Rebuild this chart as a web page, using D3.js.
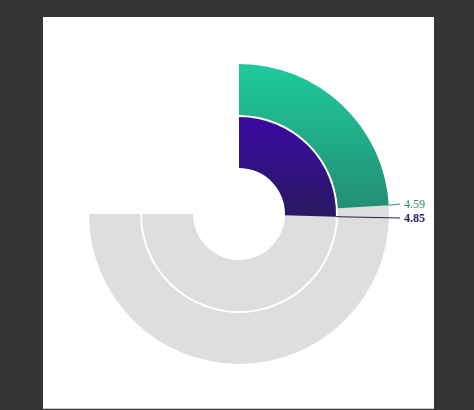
<!DOCTYPE html>
<html>
<head>
<meta charset="utf-8">
<style>
  body { margin: 0; background: #363636; width: 474px; height: 410px; overflow: hidden; }
  .panel { position: absolute; left: 43px; top: 17px; width: 391px; height: 391px; background: #fff; border-bottom: 1px solid #c8c8c8; }
  .label { font-family: "Liberation Serif", "DejaVu Serif", serif; font-size: 12px; }
</style>
</head>
<body>
<div class="panel"></div>
<script src="https://d3js.org/d3.v7.min.js"></script>
<script>
  // data
  const series = ["outer", "inner"];
  const values = [4.59, 4.85];
  const maxValue = 14.3;           // full track = 270°
  const topColors = ["#1ecb9c", "#3b0aa3"];
  const bottomColors = ["#238c72", "#2a1862"];
  const labelColors = ["#2f8c70", "#2b1b5e"];

  const width = 391, height = 391,
        cx = 196, cy = 197;

  const svg = d3.select('.panel')
                .append('svg')
                .attr('width', width)
                .attr('height', height);

  // 半徑 band：內圈在前
  const rScale = d3.scaleBand()
                   .domain(series.slice().reverse())
                   .range([46, 150])
                   .paddingInner(2 / 53);

  const angle = d3.scaleLinear()
                  .domain([0, maxValue])
                  .range([0, Math.PI * 1.5]);

  const defs = svg.append('defs');
  series.forEach((s, i) => {
    const r1 = rScale(s) + rScale.bandwidth();
    const g = defs.append('linearGradient')
                  .attr('id', 'grad-' + s)
                  .attr('gradientUnits', 'userSpaceOnUse')
                  .attr('x1', 0).attr('x2', 0)
                  .attr('y1', -r1)
                  .attr('y2', 0);
    g.append('stop').attr('offset', '0%').attr('stop-color', topColors[i]);
    g.append('stop').attr('offset', '100%').attr('stop-color', bottomColors[i]);
  });

  const arc = d3.arc()
                .innerRadius(d => rScale(d.s))
                .outerRadius(d => rScale(d.s) + rScale.bandwidth());

  const chart = svg.append('g').attr('transform', `translate(${cx},${cy})`);

  // 灰色底軌
  chart.selectAll('path.track')
       .data(series.map(s => ({ s })))
       .join('path')
       .attr('class', 'track')
       .attr('d', d => arc({ ...d, startAngle: 0, endAngle: angle(maxValue) }))
       .attr('fill', '#dedede');

  const data = series.map((s, i) => ({ s, v: values[i], i }));

  chart.selectAll('path.bar')
       .data(data)
       .join('path')
       .attr('class', 'bar')
       .attr('d', d => arc({ ...d, startAngle: 0, endAngle: angle(d.v) }))
       .attr('fill', d => `url(#grad-${d.s})`);

  // 標籤與引線（相對圓心）
  const labelX = 161, labelYs = [-10, 4];
  data.forEach(d => {
    const a = angle(d.v);
    const r = rScale(d.s) + rScale.bandwidth();
    const x0 = r * Math.sin(a), y0 = -r * Math.cos(a);
    chart.append('line')
         .attr('x1', x0).attr('y1', y0)
         .attr('x2', labelX).attr('y2', labelYs[d.i])
         .attr('stroke', labelColors[d.i])
         .attr('stroke-width', 1);
    chart.append('text')
         .attr('class', 'label')
         .attr('x', labelX + 4)
         .attr('y', labelYs[d.i])
         .attr('dy', '0.35em')
         .attr('font-weight', d.i === 1 ? 'bold' : 'normal')
         .attr('fill', labelColors[d.i])
         .text(d3.format('.2f')(d.v));
  });
</script>
</body>
</html>
